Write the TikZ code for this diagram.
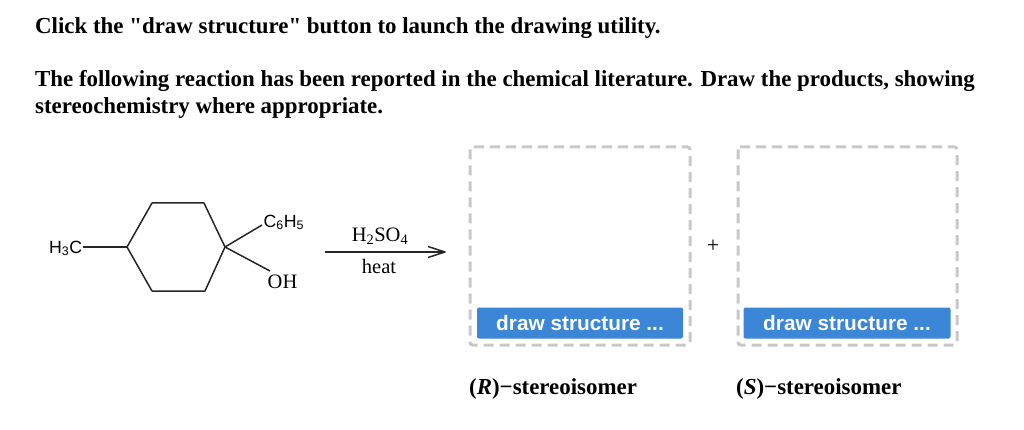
\documentclass[tikz,border=0pt]{standalone}
\usepackage{fontspec}
\setmainfont{Liberation Serif}
\newfontfamily\hv{Liberation Sans}
\newfontfamily\plainserif{Liberation Serif}
\definecolor{dashgray}{HTML}{C8C8C8}
\definecolor{btnblue}{HTML}{3B86D6}
\tikzset{
  x=1pt,y=-1pt,
  headline/.style={anchor=base west,inner sep=0pt,font=\plainserif\fontsize{22.9}{26}\selectfont\bfseries},
  atomsans/.style={inner sep=0pt,font=\hv\fontsize{17.7}{20}\selectfont},
  atomserif/.style={inner sep=0pt,font=\fontsize{20.5}{24}\selectfont},
  bond/.style={line width=1.5pt,black!85,line join=round},
  answerbox/.style={draw=dashgray,line width=3pt,dash pattern=on 10pt off 6pt,rounded corners=2.5pt},
  btn/.style={fill=btnblue,rounded corners=2pt,text=white,inner sep=0pt,font=\hv\bfseries\fontsize{20.8}{24}\selectfont},
  caption/.style={anchor=base west,inner sep=0pt,font=\plainserif\fontsize{22.9}{26}\selectfont\bfseries},
}
\begin{document}
\begin{tikzpicture}
\useasboundingbox (0,0) rectangle (1024,430);
\node[headline] (t1) at (35,33.7) {Click the "draw structure" button to launch the drawing utility.};
\node[headline] (t2) at (35,86.7) {The following reaction has been reported in the chemical literature. Draw the products, showing};
\node[headline] (t3) at (35,113.7) {stereochemistry where appropriate.};

\coordinate (r1) at (127,247);
\coordinate (r2) at (152,203);
\coordinate (r3) at (204,203);
\coordinate (r4) at (225,247);
\coordinate (r5) at (205,291);
\coordinate (r6) at (152,291);
\draw[bond] (r1)--(r2)--(r3)--(r4)--(r5)--(r6)--cycle;
\node[atomsans,anchor=base west] (me) at (49,253) {H\textsubscript{3}C};
\node[atomsans,anchor=base west] (ph) at (263.5,227) {C\textsubscript{6}H\textsubscript{5}};
\node[atomserif,anchor=base west] (oh) at (267.5,288.7) {OH};
\coordinate (meb) at (83,247);
\coordinate (phb) at (262,225);
\coordinate (ohb) at (270,271);
\draw[bond] (meb)--(r1);
\draw[bond] (r4)--(phb);
\draw[bond] (r4)--(ohb);

\node[atomserif,anchor=base] (acid) at (380,241) {H\textsubscript{2}SO\textsubscript{4}};
\node[atomserif,anchor=base] (heat) at (379,273) {heat};
\coordinate (as) at (325,252);
\coordinate (ae) at (445,252);
\coordinate (aa) at (428,246.5);
\coordinate (ab) at (428,257.5);
\draw[bond] (as)--(ae);
\draw[bond] (aa)--(ae)--(ab);

\draw[answerbox] (470,147) rectangle (690,345);
\draw[answerbox] (738,147) rectangle (957,345);
\node[btn,minimum width=206pt,minimum height=31pt] (b1) at (580,323) {draw structure ...};
\node[btn,minimum width=207pt,minimum height=31pt] (b2) at (847,323) {draw structure ...};
\node[inner sep=0pt,font=\fontsize{22}{24}\selectfont] (plus) at (713,246.5) {+};
\node[caption] (c1) at (469,394) {(\textit{R})−stereoisomer};
\node[caption] (c2) at (736,394) {(\textit{S})−stereoisomer};
\end{tikzpicture}
\end{document}
